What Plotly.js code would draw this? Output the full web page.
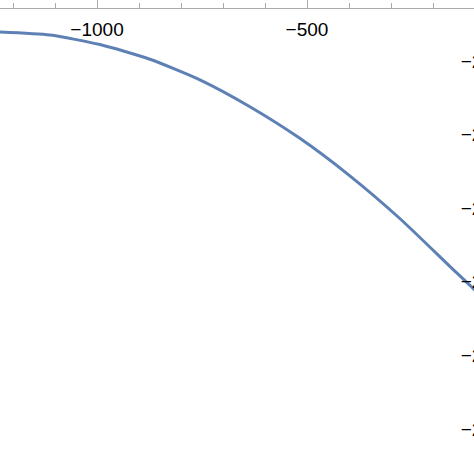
<!DOCTYPE html>
<html>
<head>
<meta charset="utf-8">
<script src="https://cdn.plot.ly/plotly-3.0.1.min.js"></script>
<style>
  html, body { margin: 0; padding: 0; background: #fff; overflow: hidden; }
  #graf { width: 540px; height: 474px; }
</style>
</head>
<body>
<div id="graf"></div>
<script>
// values (y axis sits just past the right edge)
var hodnotaX = [-1231, -1112, -993, -874, -755, -636, -517, -398, -279, -160, -102, -80];
var hodnotaY = [-2060.5, -2064.6, -2077.5, -2097.5, -2125.5, -2162.0, -2205.0, -2256.0, -2314.0, -2379.0, -2410.6, -2424.2];

var xTicky = [-1000, -500];
var yTicky = [-2100, -2200, -2300, -2400, -2500, -2600];
var yPopisy = ['−2100', '−2200', '−2300', '−2400', '−2500', '−2600'];

function nakresliGraf() {
    var trace1 = {
        x: hodnotaX,
        y: hodnotaY,
        type: 'scatter',
        mode: 'lines',
        line: {
            color: 'rgb(94, 129, 181)',
            width: 3,
            shape: 'spline',
            smoothing: 0.6
        },
        hoverinfo: 'skip'
    };

    var layout = {
        width: 540,
        height: 474,
        margin: {l: 0, r: 23, t: 9, b: 0},
        paper_bgcolor: '#fff',
        plot_bgcolor: '#fff',
        showlegend: false,
        font: {family: 'Liberation Sans, Arial, sans-serif', size: 19, color: '#000'},
        xaxis: {
            range: [-1231, 0],
            side: 'top',
            tickvals: xTicky,
            ticks: 'outside',
            ticklen: 9,
            tickwidth: 1,
            tickcolor: '#aaa',
            ticklabelposition: 'inside',
            ticklabelstandoff: 15,
            minor: {dtick: 100, tick0: 0, ticks: 'outside', ticklen: 5, tickcolor: '#aaa', tickwidth: 1},
            showline: true,
            linecolor: '#aaa',
            linewidth: 1,
            showgrid: false,
            zeroline: false,
            tickfont: {size: 19, color: '#000'}
        },
        yaxis: {
            range: [-2661.3, -2029.2],
            side: 'right',
            tickvals: yTicky,
            ticktext: yPopisy,
            ticks: '',
            ticklabelposition: 'inside',
            ticklabelstandoff: 0,
            showline: false,
            showgrid: false,
            zeroline: false,
            tickfont: {size: 19, color: '#000'}
        }
    };

    Plotly.newPlot('graf', [trace1], layout, {staticPlot: true, displayModeBar: false});
}

nakresliGraf();
</script>
</body>
</html>
